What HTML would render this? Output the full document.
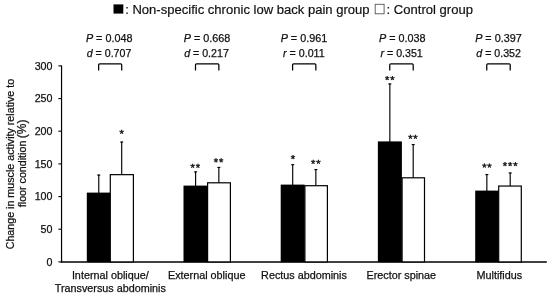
<!DOCTYPE html>
<html><head><meta charset="utf-8"><title>Chart</title>
<style>
html,body{margin:0;padding:0;background:#fff;}
svg{display:block;}
text{font-family:"Liberation Sans",Arial,sans-serif;fill:#111;}
.t{font-size:10.8px;}
.t,.x,.yl,.tk{stroke:#111;stroke-width:0.25px;}
.t2{font-size:10.65px;}
.x{font-size:10.8px;}
.tk{font-size:10.7px;}
.yl{font-size:10.7px;}
.lg{font-size:13.05px;stroke:#111;stroke-width:0.2px;}
.st{font-size:11.1px;letter-spacing:0.88px;stroke:#111;stroke-width:0.45px;}
.i{font-style:italic;}
</style></head><body>
<svg width="550" height="297" viewBox="0 0 550 297">
<rect width="550" height="297" fill="#fff"/>

<rect x="113.5" y="4.4" width="9.8" height="9.2" fill="#000"/>
<text class="lg" x="125.2" y="13.7">: Non-specific chronic low back pain group</text>
<rect x="375.2" y="4.3" width="8.9" height="9.5" fill="#fff" stroke="#555" stroke-width="0.9"/>
<text class="lg" x="386.6" y="13.7">: Control group</text>
<line x1="61.55" y1="65.4" x2="61.55" y2="262.5" stroke="#000" stroke-width="1.2"/>
<line x1="60.9" y1="261.95" x2="546.8" y2="261.95" stroke="#000" stroke-width="1.35"/>
<line x1="58.4" y1="261.9" x2="61.5" y2="261.9" stroke="#000" stroke-width="1.1"/>
<text class="tk" x="52.5" y="265.6" text-anchor="end">0</text>
<line x1="58.4" y1="229.2" x2="61.5" y2="229.2" stroke="#000" stroke-width="1.1"/>
<text class="tk" x="52.5" y="232.9" text-anchor="end">50</text>
<line x1="58.4" y1="196.6" x2="61.5" y2="196.6" stroke="#000" stroke-width="1.1"/>
<text class="tk" x="52.5" y="200.3" text-anchor="end">100</text>
<line x1="58.4" y1="163.9" x2="61.5" y2="163.9" stroke="#000" stroke-width="1.1"/>
<text class="tk" x="52.5" y="167.6" text-anchor="end">150</text>
<line x1="58.4" y1="131.2" x2="61.5" y2="131.2" stroke="#000" stroke-width="1.1"/>
<text class="tk" x="52.5" y="134.9" text-anchor="end">200</text>
<line x1="58.4" y1="98.6" x2="61.5" y2="98.6" stroke="#000" stroke-width="1.1"/>
<text class="tk" x="52.5" y="102.3" text-anchor="end">250</text>
<line x1="58.4" y1="65.9" x2="61.5" y2="65.9" stroke="#000" stroke-width="1.1"/>
<text class="tk" x="52.5" y="69.6" text-anchor="end">300</text>
<text class="yl" transform="translate(14.3,164.1) rotate(-90)" text-anchor="middle">Change in muscle activity relative to</text>
<text class="yl" transform="translate(25.7,207.2) rotate(-90)">floor condition<tspan dx="-0.9" style="font-size:12px"> (%)</tspan></text>
<rect x="110.30" y="174.65" width="23.10" height="87.25" fill="#fff" stroke="#000" stroke-width="1.2"/>
<rect x="86.80" y="192.60" width="23.30" height="69.60" fill="#000"/>
<line x1="98.76" y1="174.60" x2="98.76" y2="193.10" stroke="#000" stroke-width="1.15"/>
<line x1="97.26" y1="175.10" x2="100.26" y2="175.10" stroke="#000" stroke-width="1.1"/>
<line x1="121.70" y1="141.60" x2="121.70" y2="174.55" stroke="#000" stroke-width="1.15"/>
<line x1="120.20" y1="142.10" x2="123.20" y2="142.10" stroke="#000" stroke-width="1.1"/>
<text class="st" transform="translate(122.04,137.60) rotate(0.03)" text-anchor="middle">*</text>
<path d="M98.66 70.4 V64.8 q0 -1 1 -1 H120.70 q1 0 1 1 V70.4" fill="none" stroke="#000" stroke-width="1.25"/>
<text class="t" x="109.18" y="41.5" text-anchor="middle"><tspan class="i">P</tspan> = 0.048</text>
<text class="t t2" x="109.03" y="57.3" text-anchor="middle"><tspan class="i">d</tspan> = 0.707</text>
<rect x="207.60" y="182.80" width="22.80" height="79.10" fill="#fff" stroke="#000" stroke-width="1.2"/>
<rect x="183.50" y="185.60" width="23.90" height="76.60" fill="#000"/>
<line x1="195.60" y1="171.40" x2="195.60" y2="186.10" stroke="#000" stroke-width="1.15"/>
<line x1="194.10" y1="171.90" x2="197.10" y2="171.90" stroke="#000" stroke-width="1.1"/>
<line x1="218.85" y1="166.90" x2="218.85" y2="182.70" stroke="#000" stroke-width="1.15"/>
<line x1="217.35" y1="167.40" x2="220.35" y2="167.40" stroke="#000" stroke-width="1.1"/>
<text class="st" transform="translate(195.79,171.55) rotate(0.03)" text-anchor="middle">**</text>
<text class="st" transform="translate(218.94,166.05) rotate(0.03)" text-anchor="middle">**</text>
<path d="M195.50 70.4 V64.8 q0 -1 1 -1 H217.85 q1 0 1 1 V70.4" fill="none" stroke="#000" stroke-width="1.25"/>
<text class="t" x="207.07" y="41.5" text-anchor="middle"><tspan class="i">P</tspan> = 0.668</text>
<text class="t t2" x="206.47" y="57.3" text-anchor="middle"><tspan class="i">d</tspan> = 0.217</text>
<rect x="304.90" y="185.70" width="22.50" height="76.20" fill="#fff" stroke="#000" stroke-width="1.2"/>
<rect x="280.70" y="184.60" width="24.00" height="77.60" fill="#000"/>
<line x1="292.70" y1="164.20" x2="292.70" y2="185.10" stroke="#000" stroke-width="1.15"/>
<line x1="291.20" y1="164.70" x2="294.20" y2="164.70" stroke="#000" stroke-width="1.1"/>
<line x1="315.85" y1="169.10" x2="315.85" y2="185.60" stroke="#000" stroke-width="1.15"/>
<line x1="314.35" y1="169.60" x2="317.35" y2="169.60" stroke="#000" stroke-width="1.1"/>
<text class="st" transform="translate(293.24,162.80) rotate(0.03)" text-anchor="middle">*</text>
<text class="st" transform="translate(316.14,167.55) rotate(0.03)" text-anchor="middle">**</text>
<path d="M292.60 70.4 V64.8 q0 -1 1 -1 H314.85 q1 0 1 1 V70.4" fill="none" stroke="#000" stroke-width="1.25"/>
<text class="t" x="303.92" y="41.5" text-anchor="middle"><tspan class="i">P</tspan> = 0.961</text>
<text class="t t2" x="303.88" y="57.3" text-anchor="middle"><tspan class="i">r</tspan> = 0.011</text>
<rect x="402.10" y="177.80" width="22.40" height="84.10" fill="#fff" stroke="#000" stroke-width="1.2"/>
<rect x="377.85" y="141.40" width="24.05" height="120.80" fill="#000"/>
<line x1="389.85" y1="83.45" x2="389.85" y2="141.90" stroke="#000" stroke-width="1.15"/>
<line x1="388.35" y1="83.95" x2="391.35" y2="83.95" stroke="#000" stroke-width="1.1"/>
<line x1="413.20" y1="144.10" x2="413.20" y2="177.70" stroke="#000" stroke-width="1.15"/>
<line x1="411.70" y1="144.60" x2="414.70" y2="144.60" stroke="#000" stroke-width="1.1"/>
<text class="st" transform="translate(390.14,83.65) rotate(0.03)" text-anchor="middle">**</text>
<text class="st" transform="translate(413.34,142.55) rotate(0.03)" text-anchor="middle">**</text>
<path d="M389.75 70.4 V64.8 q0 -1 1 -1 H412.20 q1 0 1 1 V70.4" fill="none" stroke="#000" stroke-width="1.25"/>
<text class="t" x="402.27" y="41.5" text-anchor="middle"><tspan class="i">P</tspan> = 0.038</text>
<text class="t t2" x="401.62" y="57.3" text-anchor="middle"><tspan class="i">r</tspan> = 0.351</text>
<rect x="498.70" y="186.05" width="22.60" height="75.85" fill="#fff" stroke="#000" stroke-width="1.2"/>
<rect x="475.20" y="190.60" width="23.30" height="71.60" fill="#000"/>
<line x1="486.85" y1="174.10" x2="486.85" y2="191.10" stroke="#000" stroke-width="1.15"/>
<line x1="485.35" y1="174.60" x2="488.35" y2="174.60" stroke="#000" stroke-width="1.1"/>
<line x1="510.20" y1="172.50" x2="510.20" y2="185.95" stroke="#000" stroke-width="1.15"/>
<line x1="508.70" y1="173.00" x2="511.70" y2="173.00" stroke="#000" stroke-width="1.1"/>
<text class="st" transform="translate(487.34,171.30) rotate(0.03)" text-anchor="middle">**</text>
<text class="st" transform="translate(510.54,169.75) rotate(0.03)" text-anchor="middle">***</text>
<path d="M486.75 70.4 V64.8 q0 -1 1 -1 H509.20 q1 0 1 1 V70.4" fill="none" stroke="#000" stroke-width="1.25"/>
<text class="t" x="498.42" y="41.5" text-anchor="middle"><tspan class="i">P</tspan> = 0.397</text>
<text class="t t2" x="498.62" y="57.3" text-anchor="middle"><tspan class="i">d</tspan> = 0.352</text>
<text class="x" x="110.3" y="279" text-anchor="middle">Internal oblique/</text>
<text class="x" x="110.3" y="291.7" text-anchor="middle">Transversus abdominis</text>
<text class="x" x="206.7" y="279" text-anchor="middle">External oblique</text>
<text class="x" x="304" y="279" text-anchor="middle">Rectus abdominis</text>
<text class="x" x="401.3" y="279" text-anchor="middle">Erector spinae</text>
<text class="x" x="499.3" y="279" text-anchor="middle">Multifidus</text>
</svg></body></html>
